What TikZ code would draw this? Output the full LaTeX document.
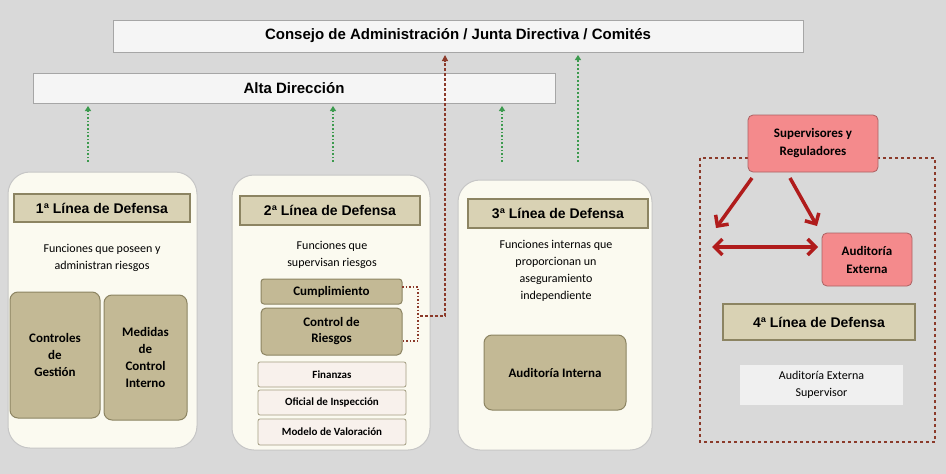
\documentclass[tikz,border=0pt]{standalone}
\usepackage{fontspec}
\setmainfont{Carlito}
\newfontfamily\arialf{Liberation Sans}
\usetikzlibrary{arrows.meta}
\definecolor{bg}{HTML}{D9D9D9}
\definecolor{ivory}{HTML}{FBFAF0}
\definecolor{khaki}{HTML}{D9D2B4}
\definecolor{khakid}{HTML}{C3B995}
\definecolor{khakie}{HTML}{8C8462}
\definecolor{pinkw}{HTML}{F8F1EC}
\definecolor{dred}{HTML}{8B3A2A}
\definecolor{rred}{HTML}{B01C1C}
\definecolor{pinkf}{HTML}{F48A8C}
\definecolor{gr}{HTML}{3C9A4E}
\tikzset{
 topbar/.style={draw=gray!70,fill=gray!8,line width=0.6pt,font=\arialf\bfseries\fontsize{15}{17}\selectfont},
 panel/.style={draw=gray!45,fill=ivory,rounded corners=22pt,line width=1pt},
 titlebar/.style={draw=khakie,fill=khaki,line width=1.2pt,font=\arialf\bfseries\fontsize{14}{16}\selectfont},
 sub/.style={draw=khakie,fill=khakid,rounded corners=8pt,line width=1pt,font=\bfseries\fontsize{13}{17}\selectfont,align=center},
 small/.style={draw=khakie!80,fill=pinkw,line width=0.8pt,rounded corners=2pt,font=\bfseries\fontsize{11}{13}\selectfont},
 txt/.style={font=\fontsize{12}{17}\selectfont,align=center},
 pinkbox/.style={draw=pinkf!70!black,fill=pinkf,rounded corners=5pt,line width=0.8pt,font=\bfseries\fontsize{13}{18}\selectfont,align=center},
 garrow/.style={draw=gr,dotted,line width=1.6pt,-{Triangle[length=5pt,width=6pt]}},
 barb/.tip={Straight Barb[length=8pt,width=16pt]},
 rarrow/.style={draw=rred,line width=3.5pt,-barb},
}
\begin{document}
\begin{tikzpicture}[x=1pt,y=-1pt]
\fill[bg] (0,0) rectangle (946,474);
\useasboundingbox (0,0) rectangle (946,474);
\node[topbar,minimum width=690pt,minimum height=32pt] (cons) at (458,36) {Consejo de Administración / Junta Directiva / Comités};
\node[topbar,minimum width=522pt,minimum height=30pt] (alta) at (294,88) {Alta Dirección};
\node[panel,minimum width=189pt,minimum height=276pt] (p1) at (102.5,310) {};
\node[panel,minimum width=198pt,minimum height=275pt] (p2) at (331,312.5) {};
\node[panel,minimum width=194pt,minimum height=270pt] (p3) at (555,315) {};
\node[titlebar,minimum width=176pt,minimum height=28pt] (t1) at (102,208) {1ª Línea de Defensa};
\node[txt] (f1) at (102,258) {Funciones que poseen y\\administran riesgos};
\node[sub,minimum width=90pt,minimum height=126pt] (cg) at (55,355) {Controles\\de\\Gestión};
\node[sub,minimum width=83pt,minimum height=125pt] (mc) at (145.5,357.5) {Medidas\\de\\Control\\Interno};
\node[titlebar,minimum width=180pt,minimum height=29pt] (t2) at (330,210.5) {2ª Línea de Defensa};
\node[txt] (f2) at (332,255) {Funciones que\\supervisan riesgos};
\node[sub,rounded corners=3pt,minimum width=141pt,minimum height=25pt] (cu) at (331.5,291.5) {Cumplimiento};
\node[sub,rounded corners=5pt,minimum width=141pt,minimum height=47pt,font=\bfseries\fontsize{13}{16}\selectfont] (cr) at (331.5,331.5) {Control de\\Riesgos};
\node[small,minimum width=148pt,minimum height=25pt] (fi) at (332,374.5) {Finanzas};
\node[small,minimum width=148pt,minimum height=25pt] (oi) at (332,402.5) {Oficial de Inspección};
\node[small,minimum width=148pt,minimum height=26pt] (mv) at (332,432) {Modelo de Valoración};
\node[titlebar,minimum width=180pt,minimum height=29pt] (t3) at (558,213.5) {3ª Línea de Defensa};
\node[txt] (f3) at (556,271) {Funciones internas que\\proporcionan un\\aseguramiento\\independiente};
\node[sub,minimum width=142pt,minimum height=75pt] (ai) at (555,372.5) {Auditoría Interna};
\draw[garrow] (88,162) -- (88,106);
\draw[garrow] (333,162) -- (333,106);
\draw[garrow] (502,162) -- (502,106);
\draw[garrow,line width=2pt] (578,162) -- (578,55);
\coordinate (c1) at (402,287);
\coordinate (b1) at (418,287);
\coordinate (b2) at (418,341);
\coordinate (c2) at (402,341);
\coordinate (bm) at (420,316);
\coordinate (bk) at (445,316);
\coordinate (top) at (445,55);
\draw[dred,dotted,line width=1.5pt] (c1) -- (b1) -- (b2) -- (c2);
\draw[dred,densely dashed,line width=1.2pt,-{Triangle[length=6pt,width=6pt]}] (bm) -- (bk) -- (top);
\draw[dred,dashed,line width=1.5pt] (700,158) rectangle (935,442);
\node[pinkbox,minimum width=130pt,minimum height=57pt] (sr) at (813,143.5) {Supervisores y\\Reguladores};
\node[pinkbox,minimum width=90pt,minimum height=53pt] (ae) at (867,259.5) {Auditoría\\Externa};
\coordinate (a1) at (752,178);
\coordinate (a1e) at (716,228);
\coordinate (a2) at (790,178);
\coordinate (a2e) at (817,226);
\coordinate (lp) at (712,247);
\coordinate (rp) at (818,247);
\draw[rarrow] (a1) -- (a1e);
\draw[rarrow] (a2) -- (a2e);
\draw[rarrow,barb-barb] (lp) -- (rp);
\node[titlebar,minimum width=192pt,minimum height=36pt] (t4) at (819,322) {4ª Línea de Defensa};
\node[txt,fill=gray!12,minimum width=163pt,minimum height=40pt] (s4) at (821.5,385) {Auditoría Externa\\Supervisor};
\end{tikzpicture}
\end{document}
